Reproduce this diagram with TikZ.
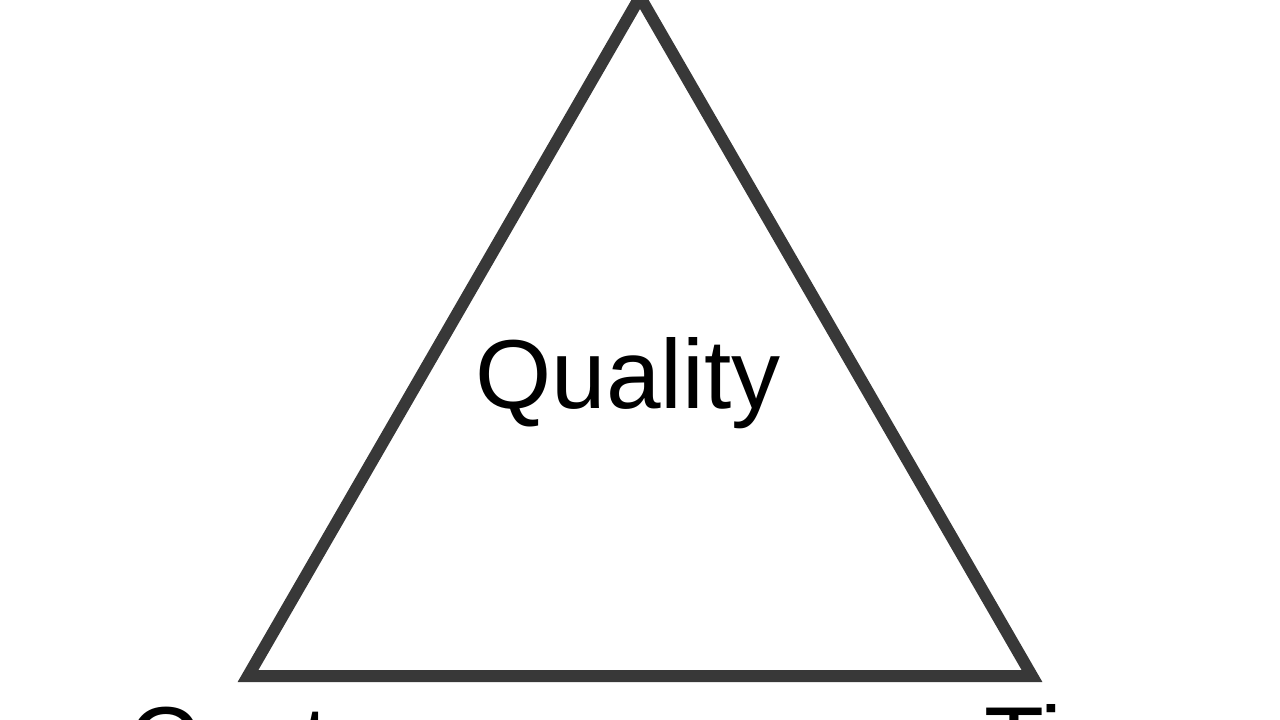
\documentclass[tikz,border=0pt]{standalone}
\usepackage{fontspec}
\setmainfont{Liberation Sans}
\begin{document}
\begin{tikzpicture}[x=0.75pt,y=-0.75pt,
  edge/.style={draw=black!78,line width=9pt,line join=miter},
  lbl/.style={inner sep=0pt,font=\fontsize{73.5}{80}\selectfont}]
\useasboundingbox (0,0) rectangle (1280,720);
\coordinate (top) at (640,-3);
\coordinate (bl) at (248,676);
\coordinate (br) at (1032,676);
\draw[edge] (top) -- (bl) -- (br) -- cycle;
\node[lbl,anchor=base] (q) at (628,408) {Quality};
\node[lbl,anchor=base west] (c) at (128,775) {Cost};
\node[lbl,anchor=base west] (t) at (984,775) {Time};
\end{tikzpicture}
\end{document}
